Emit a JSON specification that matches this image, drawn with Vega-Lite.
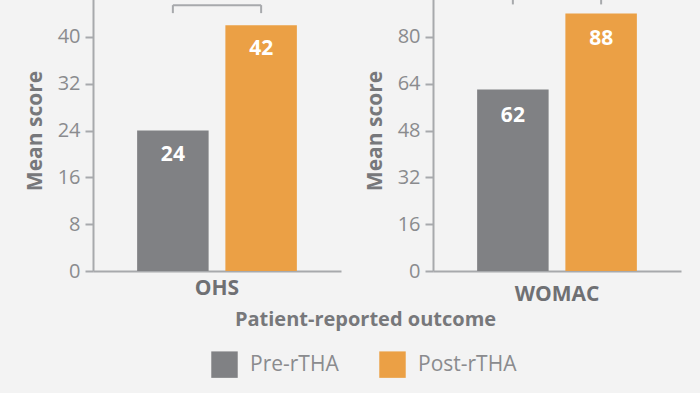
{
  "$schema": "https://vega.github.io/schema/vega-lite/v6.json",
  "background": "#f3f3f3",
  "padding": {"left": 24, "top": -10, "right": 20, "bottom": 16},
  "spacing": 92,
  "bounds": "flush",
  "config": {
    "view": {"stroke": null},
    "font": "Open Sans",
    "axis": {
      "grid": false,
      "domainColor": "#a7a9ac",
      "domainWidth": 2,
      "tickColor": "#a7a9ac",
      "tickWidth": 2,
      "tickSize": 8,
      "labelColor": "#8a8b8e",
      "labelFontSize": 20,
      "labelPadding": 5,
      "titleColor": "#77787b",
      "titleFontSize": 21,
      "titleFontWeight": "bold"
    },
    "legend": {
      "labelFontSize": 21,
      "labelColor": "#8a8b8e",
      "symbolType": "square",
      "symbolSize": 700,
      "symbolStrokeWidth": 0,
      "labelOffset": 12,
      "columnPadding": 40
    }
  },
  "resolve": {"scale": {"y": "independent", "color": "shared"}},
  "hconcat": [
    {
      "width": 248,
      "height": 281,
      "data": {"values": [
        {"outcome": "OHS", "period": "Pre-rTHA", "score": 24},
        {"outcome": "OHS", "period": "Post-rTHA", "score": 42}
      ]},
      "encoding": {
        "x": {"field": "outcome", "type": "nominal", "scale": {"paddingInner": 0, "paddingOuter": 0},
          "axis": {"labelAngle": 0, "labelFontWeight": "bold", "labelFontSize": 21, "labelColor": "#6f7073", "ticks": false, "tickSize": 0, "labelPadding": 6,
            "title": "Patient-reported outcome", "titleX": 272, "titleY": 38, "titleFontSize": 20}},
        "xOffset": {"field": "period", "type": "nominal", "sort": ["Pre-rTHA", "Post-rTHA"], "scale": {"paddingInner": 0.19, "paddingOuter": 0.5}},
        "y": {"field": "score", "type": "quantitative", "scale": {"domain": [0, 48], "nice": false},
          "axis": {"values": [0, 8, 16, 24, 32, 40], "title": "Mean score", "titlePadding": 12}}
      },
      "layer": [
        {
          "mark": {"type": "bar"},
          "encoding": {
            "color": {"field": "period", "type": "nominal", "sort": ["Pre-rTHA", "Post-rTHA"],
              "scale": {"domain": ["Pre-rTHA", "Post-rTHA"], "range": ["#808184", "#eba045"]},
              "legend": {"title": null, "orient": "none", "direction": "horizontal", "legendX": 118, "legendY": 361}}
          }
        },
        {
          "mark": {"type": "text", "color": "white", "fontWeight": "bold", "fontSize": 21, "baseline": "alphabetic", "dy": 30},
          "encoding": {"text": {"field": "score", "type": "quantitative"}}
        },
        {
          "transform": [{"joinaggregate": [{"op": "max", "field": "score", "as": "top"}]}],
          "mark": {"type": "rule", "color": "#a7a9ac", "strokeWidth": 2, "yOffset": -12, "y2Offset": -20},
          "encoding": {
            "y": {"field": "top", "type": "quantitative"},
            "y2": {"field": "top"}
          }
        },
        {
          "transform": [{"joinaggregate": [{"op": "max", "field": "score", "as": "top"}]}],
          "mark": {"type": "line", "color": "#a7a9ac", "strokeWidth": 2, "yOffset": -20},
          "encoding": {
            "y": {"field": "top", "type": "quantitative"}
          }
        }
      ]
    },
    {
      "width": 248,
      "height": 281,
      "data": {"values": [
        {"outcome": "WOMAC", "period": "Pre-rTHA", "score": 62},
        {"outcome": "WOMAC", "period": "Post-rTHA", "score": 88}
      ]},
      "encoding": {
        "x": {"field": "outcome", "type": "nominal", "scale": {"paddingInner": 0, "paddingOuter": 0},
          "axis": {"labelAngle": 0, "labelFontWeight": "bold", "labelFontSize": 21, "labelColor": "#6f7073", "ticks": false, "tickSize": 0, "labelPadding": 12, "title": null}},
        "xOffset": {"field": "period", "type": "nominal", "sort": ["Pre-rTHA", "Post-rTHA"], "scale": {"paddingInner": 0.19, "paddingOuter": 0.5}},
        "y": {"field": "score", "type": "quantitative", "scale": {"domain": [0, 96], "nice": false},
          "axis": {"values": [0, 16, 32, 48, 64, 80], "title": "Mean score", "titlePadding": 12}}
      },
      "layer": [
        {
          "mark": {"type": "bar"},
          "encoding": {
            "color": {"field": "period", "type": "nominal", "sort": ["Pre-rTHA", "Post-rTHA"],
              "scale": {"domain": ["Pre-rTHA", "Post-rTHA"], "range": ["#808184", "#eba045"]}}
          }
        },
        {
          "mark": {"type": "text", "color": "white", "fontWeight": "bold", "fontSize": 21, "baseline": "alphabetic", "dy": 32},
          "encoding": {"text": {"field": "score", "type": "quantitative"}}
        },
        {
          "transform": [{"joinaggregate": [{"op": "max", "field": "score", "as": "top"}]}],
          "mark": {"type": "rule", "color": "#a7a9ac", "strokeWidth": 2, "yOffset": -9, "y2Offset": -17},
          "encoding": {
            "y": {"field": "top", "type": "quantitative"},
            "y2": {"field": "top"}
          }
        },
        {
          "transform": [{"joinaggregate": [{"op": "max", "field": "score", "as": "top"}]}],
          "mark": {"type": "line", "color": "#a7a9ac", "strokeWidth": 2, "yOffset": -17},
          "encoding": {
            "y": {"field": "top", "type": "quantitative"}
          }
        }
      ]
    }
  ]
}
